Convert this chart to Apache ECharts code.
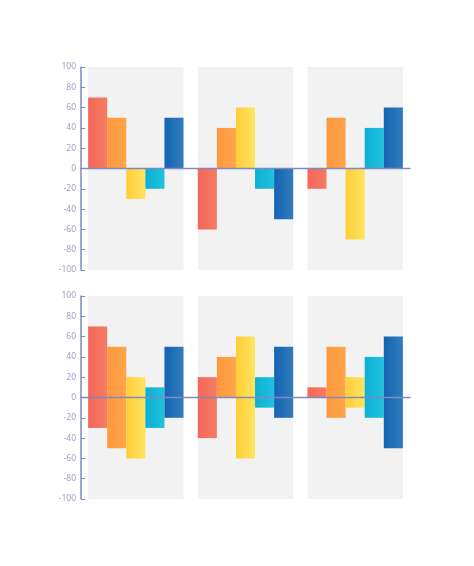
<!DOCTYPE html>
<html>
	<head>
		<meta charset="utf-8">
		<title>bar</title>
		<script src="https://cdn.jsdelivr.net/npm/echarts@6/dist/echarts.min.js" type="text/javascript" charset="utf-8"></script>
		<style>
			html,body{margin:0;padding:0;background:#fff;}
			#main{width:474px;height:566px;}
		</style>
	</head>
	<body>
		<div id="main"></div>
		<script type="text/javascript">
			var categories = ['A', 'B', 'C'];
			// 上图
			var topRed = [70, -60, -20];
			var topOrange = [50, 40, 50];
			var topYellow = [-30, 60, -70];
			var topCyan = [-20, -20, 40];
			var topBlue = [50, -50, 60];
			// 下图 正值/负值
			var botRedPos = [70, 20, 10];
			var botRedNeg = [-30, -40, 0];
			var botOrangePos = [50, 40, 50];
			var botOrangeNeg = [-50, 0, -20];
			var botYellowPos = [20, 60, 20];
			var botYellowNeg = [-60, -60, -10];
			var botCyanPos = [10, 20, 40];
			var botCyanNeg = [-30, -10, -20];
			var botBluePos = [50, 50, 60];
			var botBlueNeg = [-20, -20, -50];
			var bgUp = [100, 100, 100];
			var bgDown = [-100, -100, -100];

			var axisColor = '#7e8abf';
			function grad(c1, c2){
				return new echarts.graphic.LinearGradient(0, 0, 1, 0, [
					{offset: 0, color: c1},
					{offset: 1, color: c2}
				]);
			}
			var colors = [
				grad('#f5665a', '#f47c62'),
				grad('#ff973e', '#ffa54a'),
				grad('#ffcd38', '#ffe461'),
				grad('#0db0d3', '#1fc2de'),
				grad('#1463b4', '#317dbc')
			];

			var grids = [
				{left: 81, right: 64, top: 67, height: 203},
				{left: 81, right: 64, top: 296, height: 203}
			];
			var xAxes = [], yAxes = [];
			[0, 1].forEach(function(g){
				xAxes.push({
					type: 'category', gridIndex: g, data: categories, z: 10,
					axisLine: {lineStyle: {color: axisColor, width: 1.3}},
					axisTick: {show: false}, axisLabel: {show: false}
				});
				xAxes.push({
					type: 'category', gridIndex: g, data: categories, show: false
				});
				yAxes.push({
					type: 'value', gridIndex: g, min: -100, max: 100, interval: 20,
					axisLine: {show: true, lineStyle: {color: axisColor, width: 1.5}},
					axisTick: {show: true, inside: true, length: 4, lineStyle: {color: axisColor}},
					axisLabel: {color: '#929ac6', fontSize: 8.5, margin: 5, fontFamily: 'Open Sans'},
					splitLine: {show: false}
				});
			});

			var series = [];
			// 灰色背景
			[0, 1].forEach(function(g){
				[bgUp, bgDown].forEach(function(d){
					series.push({
						type: 'bar', xAxisIndex: g * 2 + 1, yAxisIndex: g, stack: 'bg' + g,
						data: d, barCategoryGap: '13%', silent: true, z: 1,
						itemStyle: {color: '#f2f2f2'}
					});
				});
			});
			var topData = [topRed, topOrange, topYellow, topCyan, topBlue];
			topData.forEach(function(d, i){
				series.push({
					type: 'bar', xAxisIndex: 0, yAxisIndex: 0, data: d,
					barGap: 0, barCategoryGap: '13%', z: 3,
					itemStyle: {color: colors[i]}
				});
			});
			var botPos = [botRedPos, botOrangePos, botYellowPos, botCyanPos, botBluePos];
			var botNeg = [botRedNeg, botOrangeNeg, botYellowNeg, botCyanNeg, botBlueNeg];
			botPos.forEach(function(d, i){
				[d, botNeg[i]].forEach(function(v){
					series.push({
						type: 'bar', xAxisIndex: 2, yAxisIndex: 1, data: v, stack: 's' + i,
						barGap: 0, barCategoryGap: '13%', z: 3,
						itemStyle: {color: colors[i]}
					});
				});
			});

			var myChart = echarts.init(document.getElementById('main'));
			myChart.setOption({
				animation: false,
				grid: grids,
				xAxis: xAxes,
				yAxis: yAxes,
				series: series
			});
		</script>
	</body>
</html>
